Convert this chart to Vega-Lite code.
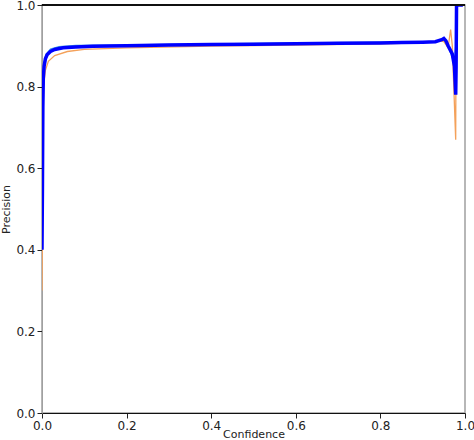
{
  "$schema": "https://vega.github.io/schema/vega-lite/v6.json",
  "width": 423,
  "height": 408,
  "autosize": {"type": "none"},
  "padding": {"left": 42, "top": 5, "right": 9, "bottom": 27},
  "background": "white",
  "config": {
    "view": {"stroke": "#a0a0a0", "strokeWidth": 1.5},
    "font": "DejaVu Sans",
    "axis": {"labelFont": "DejaVu Sans", "titleFont": "DejaVu Sans", "labelFontSize": 12, "titleFontSize": 11, "titleFontWeight": "normal", "labelColor": "#222", "titleColor": "#222", "tickColor": "#222", "domainColor": "#111", "grid": false, "tickSize": 5, "labelPadding": 2, "labelFlush": false, "labelOverlap": false}
  },
  "data": {"values": [
    {"s": "orange", "c": 0.0, "p": 0.30},
    {"s": "orange", "c": 0.001, "p": 0.45},
    {"s": "orange", "c": 0.002, "p": 0.70},
    {"s": "orange", "c": 0.004, "p": 0.80},
    {"s": "orange", "c": 0.008, "p": 0.84},
    {"s": "orange", "c": 0.015, "p": 0.862},
    {"s": "orange", "c": 0.03, "p": 0.876},
    {"s": "orange", "c": 0.06, "p": 0.886},
    {"s": "orange", "c": 0.1, "p": 0.891},
    {"s": "orange", "c": 0.2, "p": 0.895},
    {"s": "orange", "c": 0.4, "p": 0.899},
    {"s": "orange", "c": 0.6, "p": 0.902},
    {"s": "orange", "c": 0.8, "p": 0.905},
    {"s": "orange", "c": 0.9, "p": 0.907},
    {"s": "orange", "c": 0.94, "p": 0.912},
    {"s": "orange", "c": 0.95, "p": 0.91},
    {"s": "orange", "c": 0.96, "p": 0.895},
    {"s": "orange", "c": 0.966, "p": 0.94},
    {"s": "orange", "c": 0.97, "p": 0.90},
    {"s": "orange", "c": 0.978, "p": 0.67},
    {"s": "orange", "c": 0.979, "p": 1.0},
    {"s": "light", "c": 0.0, "p": 0.42},
    {"s": "light", "c": 0.002, "p": 0.80},
    {"s": "light", "c": 0.005, "p": 0.86},
    {"s": "light", "c": 0.01, "p": 0.88},
    {"s": "light", "c": 0.02, "p": 0.892},
    {"s": "light", "c": 0.04, "p": 0.898},
    {"s": "light", "c": 0.08, "p": 0.901},
    {"s": "light", "c": 0.2, "p": 0.902},
    {"s": "light", "c": 0.5, "p": 0.906},
    {"s": "light", "c": 0.8, "p": 0.909},
    {"s": "light", "c": 0.93, "p": 0.911},
    {"s": "light", "c": 0.95, "p": 0.915},
    {"s": "light", "c": 0.96, "p": 0.90},
    {"s": "light", "c": 0.97, "p": 0.87},
    {"s": "light", "c": 0.975, "p": 0.86},
    {"s": "light", "c": 0.978, "p": 0.90},
    {"s": "light", "c": 0.98, "p": 1.0},
    {"s": "all", "c": 0.0, "p": 0.40},
    {"s": "all", "c": 0.001, "p": 0.55},
    {"s": "all", "c": 0.002, "p": 0.75},
    {"s": "all", "c": 0.003, "p": 0.82},
    {"s": "all", "c": 0.005, "p": 0.85},
    {"s": "all", "c": 0.008, "p": 0.868},
    {"s": "all", "c": 0.012, "p": 0.878},
    {"s": "all", "c": 0.02, "p": 0.886},
    {"s": "all", "c": 0.03, "p": 0.891},
    {"s": "all", "c": 0.05, "p": 0.895},
    {"s": "all", "c": 0.08, "p": 0.897},
    {"s": "all", "c": 0.12, "p": 0.899},
    {"s": "all", "c": 0.2, "p": 0.900},
    {"s": "all", "c": 0.3, "p": 0.902},
    {"s": "all", "c": 0.4, "p": 0.903},
    {"s": "all", "c": 0.5, "p": 0.904},
    {"s": "all", "c": 0.6, "p": 0.905},
    {"s": "all", "c": 0.7, "p": 0.906},
    {"s": "all", "c": 0.8, "p": 0.907},
    {"s": "all", "c": 0.85, "p": 0.908},
    {"s": "all", "c": 0.9, "p": 0.909},
    {"s": "all", "c": 0.93, "p": 0.910},
    {"s": "all", "c": 0.945, "p": 0.915},
    {"s": "all", "c": 0.95, "p": 0.918},
    {"s": "all", "c": 0.955, "p": 0.912},
    {"s": "all", "c": 0.96, "p": 0.900},
    {"s": "all", "c": 0.965, "p": 0.890},
    {"s": "all", "c": 0.97, "p": 0.880},
    {"s": "all", "c": 0.975, "p": 0.85},
    {"s": "all", "c": 0.978, "p": 0.78},
    {"s": "all", "c": 0.979, "p": 0.85},
    {"s": "all", "c": 0.98, "p": 1.0},
    {"s": "all", "c": 0.995, "p": 1.0}
  ]},
  "layer": [
    {
      "transform": [{"filter": "datum.s !== 'all'"}],
      "mark": {"type": "line", "strokeWidth": 1.3, "clip": true},
      "encoding": {
        "x": {"field": "c", "type": "quantitative", "scale": {"domain": [0, 1], "nice": false}, "axis": {"title": "Confidence", "format": ".1f", "values": [0, 0.2, 0.4, 0.6, 0.8, 1.0], "titleY": 26, "titleBaseline": "bottom"}},
        "y": {"field": "p", "type": "quantitative", "scale": {"domain": [0, 1], "nice": false}, "axis": {"title": "Precision", "format": ".1f", "values": [0, 0.2, 0.4, 0.6, 0.8, 1.0], "titlePadding": 4, "domainColor": "#a0a0a0"}},
        "color": {"field": "s", "type": "nominal", "scale": {"domain": ["orange", "light", "all"], "range": ["#f4a15a", "#3d9be0", "#0000ff"]}, "legend": null}
      }
    },
    {
      "transform": [{"filter": "datum.s === 'all'"}],
      "mark": {"type": "line", "strokeWidth": 3.5, "clip": true},
      "encoding": {
        "x": {"field": "c", "type": "quantitative"},
        "y": {"field": "p", "type": "quantitative"},
        "color": {"field": "s", "type": "nominal", "legend": null}
      }
    },
    {
      "mark": {"type": "rule", "color": "#111", "strokeWidth": 1.5},
      "encoding": {"y": {"datum": 1}}
    }
  ]
}
